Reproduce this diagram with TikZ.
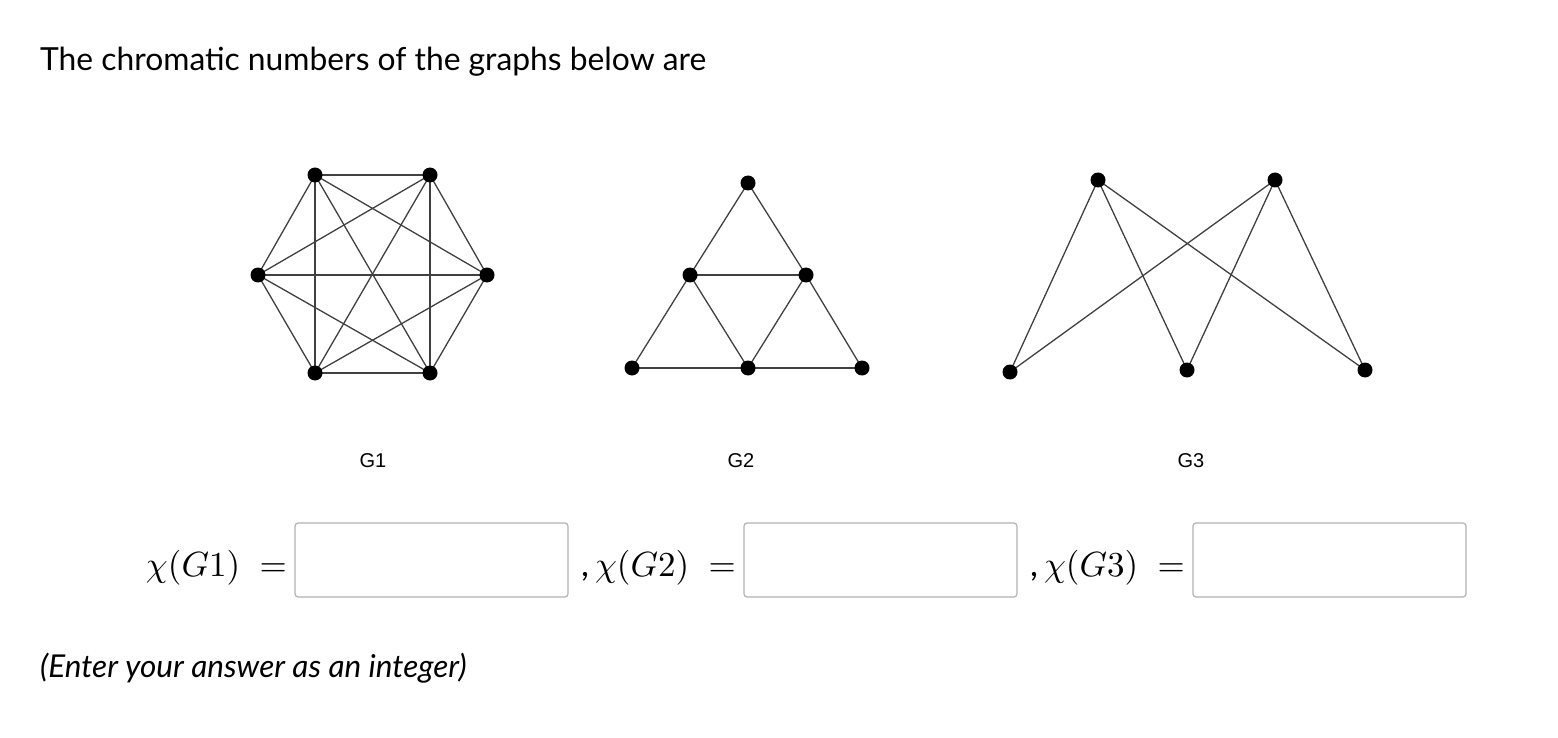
\documentclass[tikz,border=0pt]{standalone}
\usepackage{graphicx}
\usepackage{fontspec}
\setmainfont{Lato}
\newfontfamily\arialf{Liberation Sans}
\begin{document}
\begin{tikzpicture}[x=1pt,y=-1pt,
  v/.style={circle,fill=black,inner sep=0pt,minimum size=15pt},
  e/.style={draw=black!75,line width=1.3pt},
  ans/.style={draw=black!30,line width=1.2pt,rounded corners=3pt,fill=white},
  gl/.style={font=\arialf\fontsize{20}{24}\selectfont},
  mt/.style={inner sep=0pt}]
\useasboundingbox (0,0) rectangle (1558,738);
\node[anchor=west,font=\fontsize{31.8}{36}\selectfont,inner sep=0pt] (title) at (40,62) {The chromatic numbers of the graphs below are};
% G1
\foreach \n/\x/\y in {1/315/175,2/430/175,3/487/275,4/430/373,5/315/373,6/258/275}
  \coordinate (a\n) at (\x,\y);
\foreach \i in {1,...,6}{\foreach \j in {1,...,6}{\ifnum\i<\j \draw[e] (a\i)--(a\j);\fi}}
\foreach \i in {1,...,6} \node[v] (A\i) at (a\i) {};
% G2
\coordinate (b1) at (748,183); \coordinate (b2) at (690,275); \coordinate (b3) at (806,275);
\coordinate (b4) at (632,368); \coordinate (b5) at (748,368); \coordinate (b6) at (862,368);
\foreach \i/\j in {1/2,1/3,2/3,2/4,2/5,3/5,3/6,4/5,5/6} \draw[e] (b\i)--(b\j);
\foreach \i in {1,...,6} \node[v] (B\i) at (b\i) {};
% G3
\coordinate (c1) at (1098,180); \coordinate (c2) at (1275,180);
\coordinate (c3) at (1010,372); \coordinate (c4) at (1187,370); \coordinate (c5) at (1365,370);
\foreach \i in {1,2}{\foreach \j in {3,4,5} \draw[e] (c\i)--(c\j);}
\foreach \i in {1,...,5} \node[v] (C\i) at (c\i) {};
\node[gl] (g1) at (373,461) {G1};
\node[gl] (g2) at (741,461) {G2};
\node[gl] (g3) at (1191,461) {G3};
% answers
\node[mt,anchor=east] (m1) at (287,568) {\scalebox{3.5}{$\chi(G1)\;=$}};
\draw[ans] (295,523) rectangle (568,597);
\node[mt,anchor=east] (m2) at (736,568) {\scalebox{3.5}{,\,$\chi(G2)\;=$}};
\draw[ans] (744,523) rectangle (1017,597);
\node[mt,anchor=east] (m3) at (1185,568) {\scalebox{3.5}{,\,$\chi(G3)\;=$}};
\draw[ans] (1193,523) rectangle (1466,597);
\node[anchor=west,font=\fontsize{31.5}{36}\selectfont\itshape,inner sep=0pt] (note) at (40,668) {(Enter your answer as an integer)};
\end{tikzpicture}
\end{document}
